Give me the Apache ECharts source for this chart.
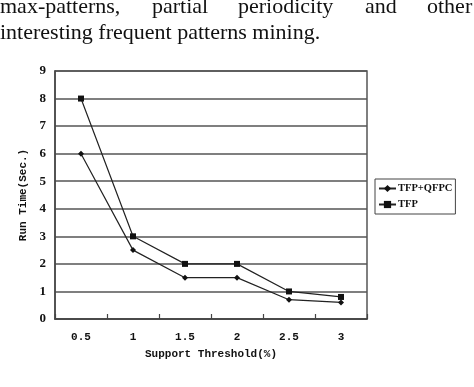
<!DOCTYPE html>
<html>
<head>
<meta charset="utf-8">
<script src="https://cdn.jsdelivr.net/npm/echarts@6/dist/echarts.min.js"></script>
<style>html,body{margin:0;padding:0;background:#fff}#c{width:474px;height:387px}</style>
</head>
<body>
<div id="c"></div>
<script>
var categories = ['0.5', '1', '1.5', '2', '2.5', '3'];
var seriesNames = ['TFP+QFPC', 'TFP'];
var tfpQfpc = [6, 2.5, 1.5, 1.5, 0.7, 0.6];
var tfp = [8, 3, 2, 2, 1, 0.8];
var yTicks = [0, 1, 2, 3, 4, 5, 6, 7, 8, 9];
var line1Words = ['max-patterns,', 'partial', 'periodicity', 'and', 'other'];
var line1X = [0, 152, 238, 365, 427];
var line2Text = 'interesting frequent patterns mining.';

var chart = echarts.init(document.getElementById('c'));
var monoFont = { fontFamily: 'Liberation Mono', fontSize: 11, fontWeight: 'bold', color: '#111' };
var graphics = line1Words.map(function (w, i) {
  return { type: 'text', left: line1X[i], top: -4, style: { text: w, font: '22px "Liberation Serif"', fill: '#111' } };
});
graphics.push({ type: 'text', left: 0, top: 22, style: { text: line2Text, font: '22px "Liberation Serif"', fill: '#111' } });

chart.setOption({
  animation: false,
  backgroundColor: '#fff',
  graphic: graphics,
  grid: { left: 55, right: 107, top: 71, bottom: 68, show: true, borderColor: '#555', borderWidth: 1.5, backgroundColor: 'transparent' },
  legend: {
    orient: 'vertical', left: 375, top: 179, data: seriesNames,
    borderColor: '#444', borderWidth: 1, padding: [4, 3, 4, 3],
    itemWidth: 17, itemHeight: 9, itemGap: 5,
    textStyle: { fontFamily: 'Liberation Serif', fontSize: 10.5, fontWeight: 'bold', color: '#111', padding: [0, 0, 0, -3] }
  },
  xAxis: {
    type: 'category', data: categories, boundaryGap: true,
    name: 'Support Threshold(%)', nameLocation: 'middle', nameGap: 30,
    nameTextStyle: monoFont,
    axisLine: { lineStyle: { color: '#444', width: 1.5 } },
    axisTick: { show: true, inside: true, length: 5, lineStyle: { color: '#444', width: 1.2 } },
    axisLabel: Object.assign({ margin: 13 }, monoFont),
    splitLine: { show: false }
  },
  yAxis: {
    type: 'value', min: yTicks[0], max: yTicks[yTicks.length - 1], interval: 1,
    name: 'Run Time(Sec.)', nameLocation: 'middle', nameGap: 24, nameRotate: 90,
    nameTextStyle: monoFont,
    axisLine: { show: true, lineStyle: { color: '#444', width: 1.5 } },
    axisTick: { show: false },
    axisLabel: Object.assign({ margin: 9 }, monoFont, { fontFamily: 'Liberation Serif', fontSize: 13 }),
    splitLine: { show: true, lineStyle: { color: '#555', width: 1.5 } }
  },
  series: [
    { name: seriesNames[0], type: 'line', data: tfpQfpc, symbol: 'diamond', symbolSize: 6,
      lineStyle: { color: '#222', width: 1.2 }, itemStyle: { color: '#111' } },
    { name: seriesNames[1], type: 'line', data: tfp, symbol: 'rect', symbolSize: 6,
      lineStyle: { color: '#222', width: 1.2 }, itemStyle: { color: '#111' } }
  ]
});
</script>
</body>
</html>
